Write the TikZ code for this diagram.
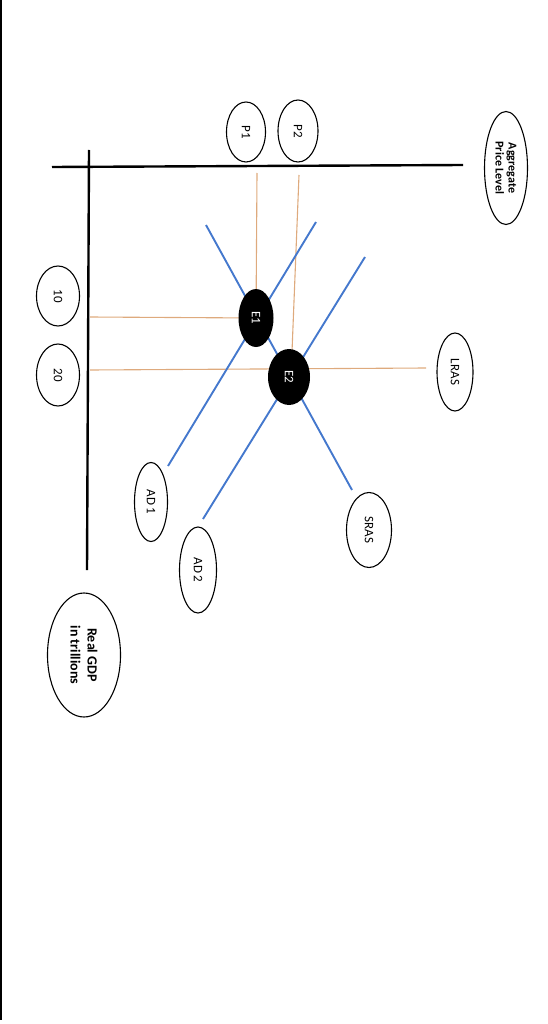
\documentclass[tikz,border=0pt]{standalone}
\usepackage{fontspec}
\setmainfont{Carlito}
\usetikzlibrary{shapes.geometric}
\definecolor{tanline}{RGB}{222,170,125}
\definecolor{blueline}{RGB}{68,120,205}
\tikzset{
  lab/.style={draw=black, line width=1.1pt, fill=white, ellipse, inner sep=0pt, rotate=-90, font=\fontsize{13}{15}\selectfont},
  boldlab/.style={lab, align=center},
  eq/.style={fill=black, ellipse, inner sep=0pt, rotate=-90, text=white, font=\fontsize{13}{15}\selectfont},
  axis/.style={line width=2.4pt, black},
  guide/.style={line width=1.1pt, tanline},
  curve/.style={line width=1.9pt, blueline}
}
\begin{document}
\begin{tikzpicture}[x=1pt,y=1pt]
\useasboundingbox (0,0) rectangle (547,-1024);
% coordinates
\coordinate (bt) at (1,0);
\coordinate (bb) at (1,-1020);
\coordinate (hl) at (52,-167);
\coordinate (hr) at (463,-165);
\coordinate (vt) at (89,-150);
\coordinate (vb) at (87,-570);
\coordinate (p1t) at (257,-173);
\coordinate (p2t) at (299,-175);
\coordinate (q1l) at (90,-317);
\coordinate (q2l) at (90,-370);
\coordinate (lr) at (426,-368);
\coordinate (sa) at (206,-225);
\coordinate (sb) at (352,-490);
\coordinate (a1a) at (316,-222);
\coordinate (a1b) at (168,-466);
\coordinate (a2a) at (365,-257);
\coordinate (a2b) at (203,-519);
\coordinate (e1c) at (256,-318);
\coordinate (e2c) at (291,-377);
% border and axes
\draw[line width=2pt] (bt) -- (bb);
\draw[axis] (hl) -- (hr);
\draw[axis] (vt) -- (vb);
% guides
\draw[guide] (p1t) -- (e1c);
\draw[guide] (p2t) -- (e2c);
\draw[guide] (q1l) -- (e1c);
\draw[guide] (q2l) -- (lr);
% curves
\draw[curve] (sa) -- (sb);
\draw[curve] (a1a) -- (a1b);
\draw[curve] (a2a) -- (a2b);
% equilibria
\node[eq, minimum width=58pt, minimum height=35pt] (E1) at (256,-318) {E1};
\node[eq, minimum width=56pt, minimum height=42pt] (E2) at (289,-377) {E2};
% labels
\node[lab, minimum width=60pt, minimum height=39pt] (P1) at (246,-132) {P1};
\node[lab, minimum width=62pt, minimum height=40pt] (P2) at (298,-131) {P2};
\node[boldlab, minimum width=113pt, minimum height=43pt, font=\fontsize{12}{13}\selectfont\bfseries] (APL) at (506,-168) {Aggregate\\Price\ Level};
\node[lab, minimum width=60pt, minimum height=43pt] (T10) at (58,-296) {10};
\node[lab, minimum width=62pt, minimum height=43pt] (T20) at (58,-375) {20};
\node[lab, minimum width=78pt, minimum height=36pt] (LRAS) at (455,-372) {LRAS};
\node[lab, minimum width=79pt, minimum height=33pt] (AD1) at (151,-502) {AD 1};
\node[lab, minimum width=86pt, minimum height=37pt] (AD2) at (198,-570) {AD 2};
\node[lab, minimum width=75pt, minimum height=45pt] (SRAS) at (369,-530) {SRAS};
\node[boldlab, minimum width=124pt, minimum height=73pt, font=\fontsize{14}{17}\selectfont\bfseries] (GDP) at (84,-655) {Real GDP\\in trillions};
\end{tikzpicture}
\end{document}
